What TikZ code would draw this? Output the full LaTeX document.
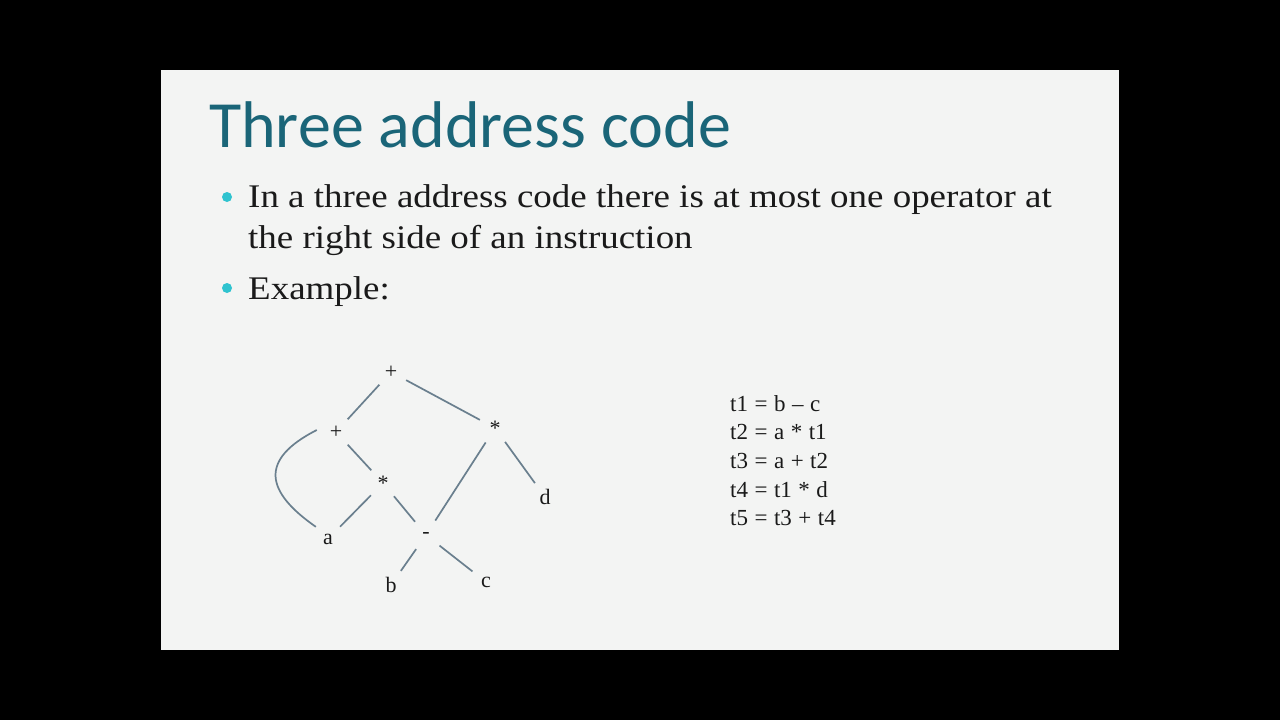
\documentclass[tikz,border=0pt]{standalone}
\usepackage{fontspec}
\setmainfont{Liberation Serif}
\newfontfamily\titlefont{Carlito}
\newfontfamily\bodyfont[FakeStretch=1.12]{Liberation Serif}
\newcommand\codesp{\hspace{6.5pt}}
\definecolor{slidebg}{HTML}{F3F4F3}
\definecolor{titlecol}{HTML}{1A6578}
\definecolor{bulletcol}{HTML}{2FC3CF}
\definecolor{edgecol}{HTML}{6A7F8E}
\definecolor{txtcol}{HTML}{1A1A1A}
\begin{document}
\begin{tikzpicture}[x=1pt,y=-1pt,
  tnode/.style={circle,inner sep=0pt,minimum size=34pt,font=\fontsize{22}{22}\selectfont,text=txtcol},
  edge/.style={draw=edgecol,line width=1.7pt},
  bodytext/.style={anchor=base west,inner sep=0pt,font=\bodyfont\fontsize{33}{33}\selectfont,text=txtcol},
  codeline/.style={anchor=base west,inner sep=0pt,font=\fontsize{23}{23}\selectfont,text=txtcol},
  bulletdot/.style={circle,fill=bulletcol,inner sep=0pt,minimum size=10pt}]
\useasboundingbox (0,0) rectangle (1280,720);
\fill[black] (0,0) rectangle (1280,720);
\fill[slidebg] (161,70) rectangle (1119,650);
% title
\node[anchor=base west,inner sep=0pt,font=\titlefont\fontsize{66}{66}\selectfont,text=titlecol] (title) at (209,147) {Three address code};
% bullets
\node[bulletdot] (b1) at (227,197) {};
\node[bodytext] (l1) at (248,207) {In a three address code there is at most one operator at};
\node[bodytext] (l2) at (248,248) {the right side of an instruction};
\node[bulletdot] (b2) at (227,288) {};
\node[bodytext] (l3) at (248,299) {Example:};
% tree
\node[tnode] (root) at (391,372) {+};
\node[tnode] (lp) at (336,432) {+};
\node[tnode] (rs) at (495,428) {*};
\node[tnode] (ms) at (383,483) {*};
\node[tnode] (d) at (545,497) {d};
\node[tnode] (a) at (328,539) {a};
\node[tnode] (m) at (426,535) {-};
\node[tnode] (b) at (391,585) {b};
\node[tnode] (c) at (486,582) {c};
\draw[edge] (root) -- (lp);
\draw[edge] (root) -- (rs);
\draw[edge] (lp) -- (ms);
\draw[edge] (ms) -- (a);
\draw[edge] (ms) -- (m);
\draw[edge] (rs) -- (m);
\draw[edge] (rs) -- (d);
\draw[edge] (m) -- (b);
\draw[edge] (m) -- (c);
\draw[edge] (lp.west) ++(-2,-2) coordinate (cs) .. controls (258,460) and (266,492) .. (a.north west);
% code
\node[codeline] (c1) at (730,411) {t1\codesp=\codesp b\codesp--\codesp c};
\node[codeline] (c2) at (730,439) {t2\codesp=\codesp a\codesp*\codesp t1};
\node[codeline] (c3) at (730,468) {t3\codesp=\codesp a\codesp+\codesp t2};
\node[codeline] (c4) at (730,497) {t4\codesp=\codesp t1\codesp*\codesp d};
\node[codeline] (c5) at (730,525) {t5\codesp=\codesp t3\codesp+\codesp t4};
\end{tikzpicture}
\end{document}
